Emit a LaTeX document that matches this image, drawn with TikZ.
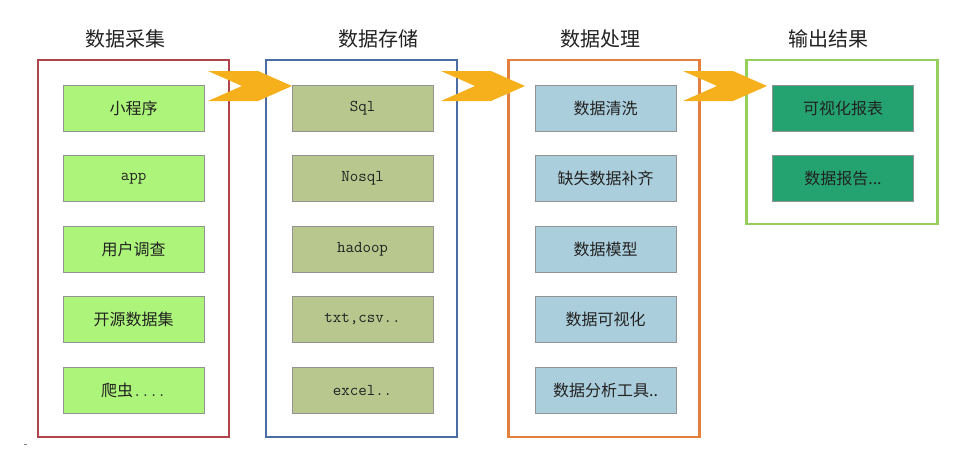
\documentclass[tikz,border=0pt]{standalone}
\usepackage{fontspec}
\newfontfamily\cjk{Noto Sans CJK SC}
\definecolor{cred}{RGB}{176,68,74}
\definecolor{cblue}{RGB}{76,108,164}
\definecolor{corange}{RGB}{228,128,62}
\definecolor{cgreen}{RGB}{150,208,92}
\definecolor{fgreen}{RGB}{173,245,122}
\definecolor{folive}{RGB}{183,199,141}
\definecolor{fblue}{RGB}{171,206,220}
\definecolor{fteal}{RGB}{36,162,112}
\definecolor{arrowc}{RGB}{246,176,28}
\definecolor{txt}{RGB}{34,34,34}
\tikzset{
  container/.style={draw, line width=2.2pt, inner sep=0pt, minimum width=191pt},
  inbox/.style={draw=gray!85, line width=1pt, inner sep=0pt, minimum width=141pt, minimum height=46pt, text=txt},
  cn/.style={font=\cjk\fontsize{16}{19}\selectfont},
  tt/.style={font=\ttfamily\fontsize{16.5}{19}\selectfont},
  title/.style={font=\cjk\fontsize{20}{24}\selectfont, text=txt},
  chevron/.style={fill=arrowc, draw=none}
}
\begin{document}
\begin{tikzpicture}[x=1pt,y=-1pt]
\useasboundingbox (0,0) rectangle (961,466);
% titles
\node[title] (t1) at (125,39) {数据采集};
\node[title] (t2) at (378,39) {数据存储};
\node[title] (t3) at (600,39) {数据处理};
\node[title] (t4) at (828,39) {输出结果};
% containers
\node[container, draw=cred, minimum height=377pt] (c1) at (133.5,248.5) {};
\node[container, draw=cblue, minimum height=377pt] (c2) at (361.5,248.5) {};
\node[container, draw=corange, minimum height=377pt] (c3) at (604,248.5) {};
\node[container, draw=cgreen, minimum height=164pt] (c4) at (842,142) {};
% column 1
\node[inbox, fill=fgreen, cn] (a1) at (133.5,108) {小程序};
\node[inbox, fill=fgreen, tt] (a2) at (133.5,178.5) {app};
\node[inbox, fill=fgreen, cn] (a3) at (133.5,249) {用户调查};
\node[inbox, fill=fgreen, cn] (a4) at (133.5,319.5) {开源数据集};
\node[inbox, fill=fgreen, cn] (a5) at (133.5,390.5) {爬虫\texttt{....}};
% column 2
\node[inbox, fill=folive, tt] (b1) at (362.5,108) {Sql};
\node[inbox, fill=folive, tt] (b2) at (362.5,178.5) {Nosql};
\node[inbox, fill=folive, tt] (b3) at (362.5,249) {hadoop};
\node[inbox, fill=folive, tt] (b4) at (362.5,319.5) {txt,csv..};
\node[inbox, fill=folive, tt] (b5) at (362.5,390.5) {excel..};
% column 3
\node[inbox, fill=fblue, cn] (p1) at (605.5,108) {数据清洗};
\node[inbox, fill=fblue, cn] (p2) at (605.5,178.5) {缺失数据补齐};
\node[inbox, fill=fblue, cn] (p3) at (605.5,249) {数据模型};
\node[inbox, fill=fblue, cn] (p4) at (605.5,319.5) {数据可视化};
\node[inbox, fill=fblue, cn] (p5) at (605.5,390.5) {数据分析工具..};
% column 4
\node[inbox, fill=fteal, cn] (o1) at (843,108) {可视化报表};
\node[inbox, fill=fteal, cn] (o2) at (843,178) {数据报告...};
% chevron arrows
\foreach \x in {208,441,683}{
  \fill[chevron] (\x,71) -- ++(50,0) -- ++(34,15) -- ++(-34,15) -- ++(-50,0) -- ++(34,-15) -- cycle;
}
% small mark
\draw[gray, line width=0.8pt] (24,444) -- (27,444);
\end{tikzpicture}
\end{document}
